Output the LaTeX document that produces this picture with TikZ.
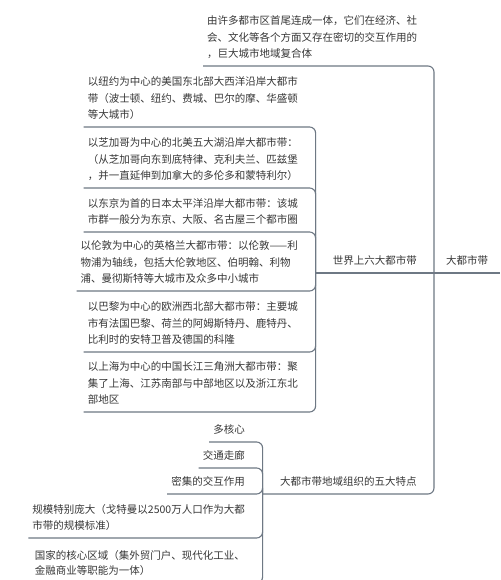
\documentclass[tikz,border=0pt]{standalone}
\usepackage{fontspec}
\setmainfont{Noto Sans CJK SC}
\definecolor{ln}{RGB}{110,120,132}
\definecolor{tx}{RGB}{55,55,55}
\begin{document}
\begin{tikzpicture}[x=1pt,y=-1pt,
  conn/.style={draw=ln, line width=1.1pt, rounded corners=6pt},
  txt/.style={font=\fontsize{10.5}{16.5}\selectfont, text=tx, align=left, inner xsep=4pt, inner ysep=7pt},
  hub/.style={font=\fontsize{10.5}{16.5}\selectfont, text=tx, inner xsep=0pt, inner ysep=7pt}]
\useasboundingbox (0,0) rectangle (500,580);
\clip (0,0) rectangle (500,580);
\fill[white] (0,0) rectangle (500,580);
% hubs
\node[hub, anchor=south west, minimum width=66pt] (root) at (434,273) {大都市带};
\node[hub, anchor=south east, minimum width=118pt] (sj) at (root.south west) {世界上六大都市带};
\node[hub, anchor=south east, minimum width=171pt] (td) at (434,494) {大都市带地域组织的五大特点};
% definition
\node[txt, anchor=south west] (def) at (203,66) {由许多都市区首尾连成一体，它们在经济、社\\会、文化等各个方面又存在密切的交互作用的\\，巨大城市地域复合体};
% six belts
\node[txt, anchor=south east] (ny) at (302,127) {以纽约为中心的美国东北部大西洋沿岸大都市\\带（波士顿、纽约、费城、巴尔的摩、华盛顿\\等大城市）};
\node[txt, anchor=south east] (cg) at (302,188) {以芝加哥为中心的北美五大湖沿岸大都市带：\\（从芝加哥向东到底特律、克利夫兰、匹兹堡\\，并一直延伸到加拿大的多伦多和蒙特利尔）};
\node[txt, anchor=south east] (tk) at (302,232) {以东京为首的日本太平洋沿岸大都市带：该城\\市群一般分为东京、大阪、名古屋三个都市圈};
\node[txt, anchor=south east] (ld) at (302,291) {以伦敦为中心的英格兰大都市带：以伦敦——利\\物浦为轴线，包括大伦敦地区、伯明翰、利物\\浦、曼彻斯特等大城市及众多中小城市};
\node[txt, anchor=south east] (pl) at (302,352) {以巴黎为中心的欧洲西北部大都市带：主要城\\市有法国巴黎、荷兰的阿姆斯特丹、鹿特丹、\\比利时的安特卫普及德国的科隆};
\node[txt, anchor=south east] (sh) at (302,412) {以上海为中心的中国长江三角洲大都市带：聚\\集了上海、江苏南部与中部地区以及浙江东北\\部地区};
% five features
\node[txt, anchor=south east] (f1) at (249,442) {多核心};
\node[txt, anchor=south east] (f2) at (249,468) {交通走廊};
\node[txt, anchor=south east] (f3) at (249,494) {密集的交互作用};
\node[txt, anchor=south east] (f4) at (249,538) {规模特别庞大（戈特曼以2500万人口作为大都\\市带的规模标准）};
\node[txt, anchor=south east, font=\fontsize{10.5}{15.5}\selectfont] (f5) at (249,583) {国家的核心区域（集外贸门户、现代化工业、\\金融商业等职能为一体）};
% connectors
\draw[conn] (root.south west) -- (root.south east);
\draw[conn] (sj.south west) -- (root.south west);
\draw[conn] (def.south west) -- (def.south west -| root.south west) -- (root.south west);
\draw[conn] (td.south west) -- (td.south west -| root.south west) -- (root.south west);
\foreach \c in {ny,cg,tk,ld,pl,sh}
  \draw[conn] (\c.south west) -- (\c.south west -| sj.south west) -- (sj.south west);
\foreach \c in {f1,f2,f3,f4,f5}
  \draw[conn] (\c.south west) -- (\c.south west -| td.south west) -- (td.south west);
\end{tikzpicture}
\end{document}
